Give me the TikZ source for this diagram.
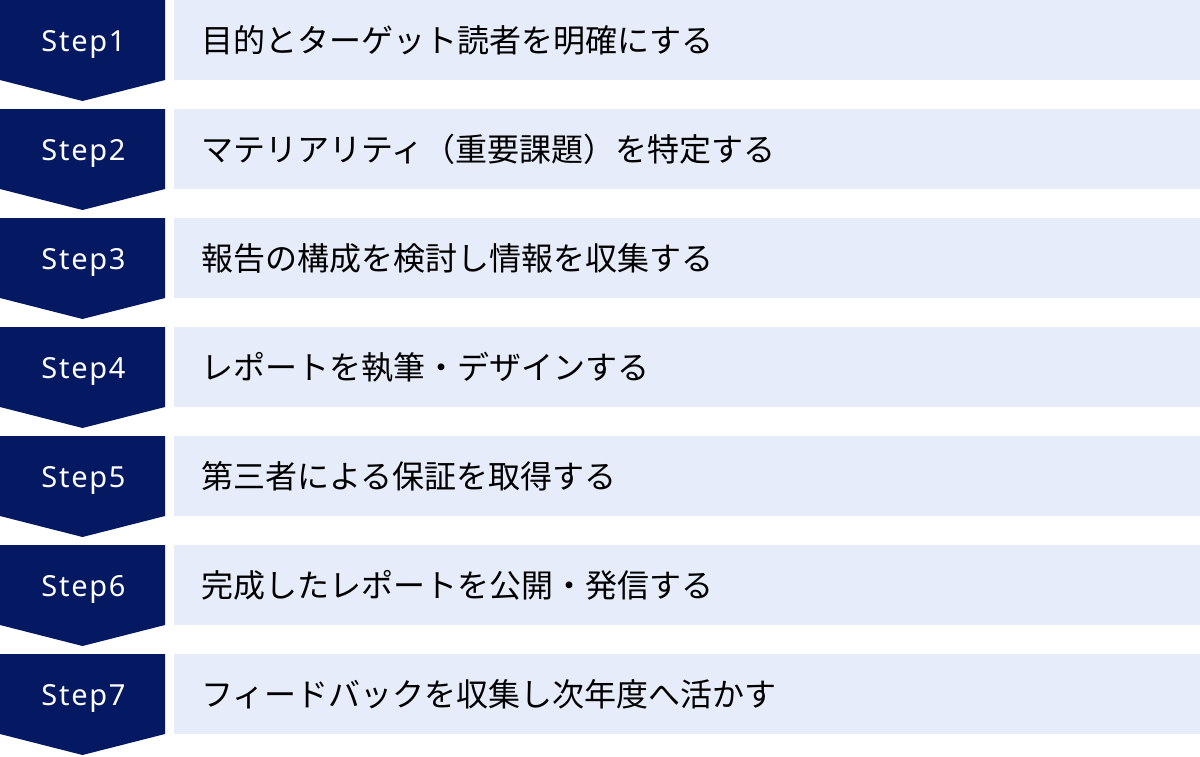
\documentclass[tikz,border=0pt]{standalone}
\usepackage{fontspec}
\setmainfont{Noto Sans}
\newfontfamily\jpfont{Noto Sans CJK JP}
\newfontfamily\stepfont[LetterSpace=6]{Noto Sans}
\definecolor{navy}{HTML}{051862}
\definecolor{pale}{HTML}{E6ECF9}
\tikzset{
  chevron/.style={fill=navy, draw=none},
  bar/.style={fill=pale, draw=none},
  steplabel/.style={text=white, inner sep=0pt, anchor=base, font=\stepfont\fontsize{29}{34}\selectfont},
  desc/.style={text=black, anchor=base west, inner sep=0pt, font=\jpfont\fontsize{32}{38}\selectfont},
}
\begin{document}
\begin{tikzpicture}[x=1pt,y=-1pt]
\useasboundingbox (0,0) rectangle (1200,756);
\foreach \i/\t in {1/目的とターゲット読者を明確にする,
                   2/マテリアリティ（重要課題）を特定する,
                   3/報告の構成を検討し情報を収集する,
                   4/レポートを執筆・デザインする,
                   5/第三者による保証を取得する,
                   6/完成したレポートを公開・発信する,
                   7/フィードバックを収集し次年度へ活かす}{
  \pgfmathsetmacro{\yy}{109*(\i-1)}
  \fill[chevron] (0,\yy) -- (165,\yy) -- (165,\yy+80) -- (82.5,\yy+101) -- (0,\yy+80) -- cycle;
  \fill[bar] (174,\yy) rectangle (1200,\yy+80);
  \node[steplabel] (s\i) at (83.5,\yy+51.5) {Step\i};
  \node[desc] (d\i) at (201,\yy+52.5) {\t};
}
\end{tikzpicture}
\end{document}
